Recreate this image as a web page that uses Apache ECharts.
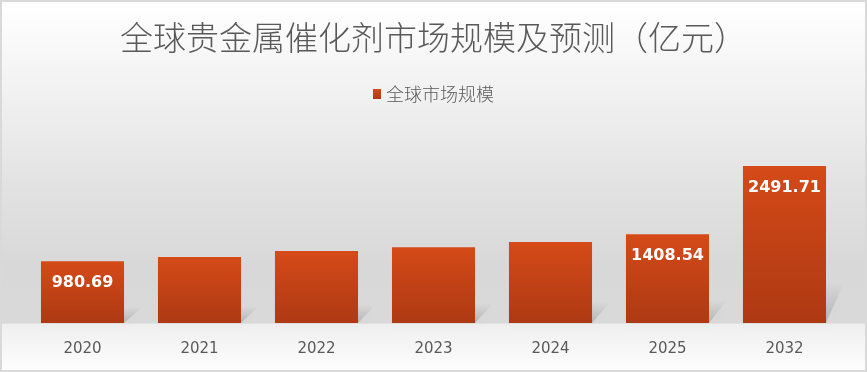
<!DOCTYPE html>
<html>
<head>
<meta charset="utf-8">
<script src="https://cdn.jsdelivr.net/npm/echarts@6/dist/echarts.min.js"></script>
<style>
html,body{margin:0;padding:0;background:#fff;}
#wrap{width:867px;height:372px;box-sizing:border-box;border:2px solid #d9d9d9;}
#chart{width:863px;height:368px;}
</style>
</head>
<body>
<div id="wrap"><div id="chart"></div></div>
<script>
const titleText = '全球贵金属催化剂市场规模及预测（亿元）';
const seriesName = '全球市场规模';
const categories = ['2020', '2021', '2022', '2023', '2024', '2025', '2032'];
const values = [980.69, 1046, 1141, 1204, 1284, 1408.54, 2491.71];
const labelShown = [true, false, false, false, false, true, true];

const chart = echarts.init(document.getElementById('chart'), null, {renderer: 'canvas'});
const barRatio = 0.71;

const barData = values.map((v, i) => ({
  value: v,
  label: {show: labelShown[i]}
}));

const option = {
  animation: false,
  backgroundColor: new echarts.graphic.LinearGradient(0, 0, 0, 1, [
    {offset: 0, color: '#ffffff'},
    {offset: 0.25, color: '#f1f1f1'},
    {offset: 0.5, color: '#e2e2e2'},
    {offset: 0.72, color: '#d8d8d8'},
    {offset: 0.872, color: '#d9d9d9'},
    {offset: 0.876, color: '#efefef'},
    {offset: 1, color: '#fdfdfd'}
  ]),
  title: {
    text: titleText,
    left: 'center',
    top: 14,
    textStyle: {
      fontFamily: '"Noto Sans CJK SC", sans-serif',
      fontWeight: 300,
      fontSize: 33,
      color: '#595959'
    }
  },
  legend: {
    top: 78,
    left: 'center',
    itemWidth: 8,
    itemHeight: 10,
    itemGap: 6,
    icon: 'rect',
    data: [seriesName],
    textStyle: {
      fontFamily: '"Noto Sans CJK SC", sans-serif',
      fontWeight: 300,
      fontSize: 18,
      color: '#595959'
    }
  },
  grid: {left: 22, right: 22, top: 132, bottom: 47},
  xAxis: {
    type: 'category',
    data: categories,
    axisLine: {show: false},
    axisTick: {show: false},
    axisLabel: {
      margin: 19,
      fontFamily: '"DejaVu Sans", sans-serif',
      fontSize: 15,
      color: '#595959'
    }
  },
  yAxis: {
    type: 'value',
    min: 0,
    max: 3000,
    show: false,
    splitLine: {show: false}
  },
  series: [
    {
      type: 'custom',
      silent: true,
      z: 1,
      data: values.map((v, i) => [i, v]),
      renderItem: function (params, api) {
        const base = api.coord([api.value(0), 0]);
        const top = api.coord([api.value(0), api.value(1)]);
        const w = api.size([1, 0])[0] * barRatio;
        const h = (base[1] - top[1]) * 0.26;
        const dx = 18;
        const x0 = base[0] - w / 2, x1 = base[0] + w / 2;
        return {
          type: 'polygon',
          shape: {points: [[x0, base[1]], [x1, base[1]], [x1 + dx, base[1] - h], [x0 + dx, base[1] - h]]},
          style: {
            fill: new echarts.graphic.LinearGradient(0, 1, 0, 0, [
              {offset: 0, color: 'rgba(0,0,0,0.16)'},
              {offset: 1, color: 'rgba(0,0,0,0.0)'}
            ]),
            shadowBlur: 14,
            shadowColor: 'rgba(0,0,0,0.12)'
          }
        };
      }
    },
    {
      name: seriesName,
      type: 'bar',
      z: 2,
      barWidth: (barRatio * 100) + '%',
      data: barData,
      itemStyle: {
        color: new echarts.graphic.LinearGradient(0, 0, 0, 1, [
          {offset: 0, color: '#d54a18'},
          {offset: 1, color: '#ad3913'}
        ])
      },
      label: {
        position: 'insideTop',
        distance: 14,
        color: '#ffffff',
        fontFamily: '"DejaVu Sans", sans-serif',
        fontWeight: 'bold',
        fontSize: 16
      }
    }
  ]
};
chart.setOption(option);
</script>
</body>
</html>
